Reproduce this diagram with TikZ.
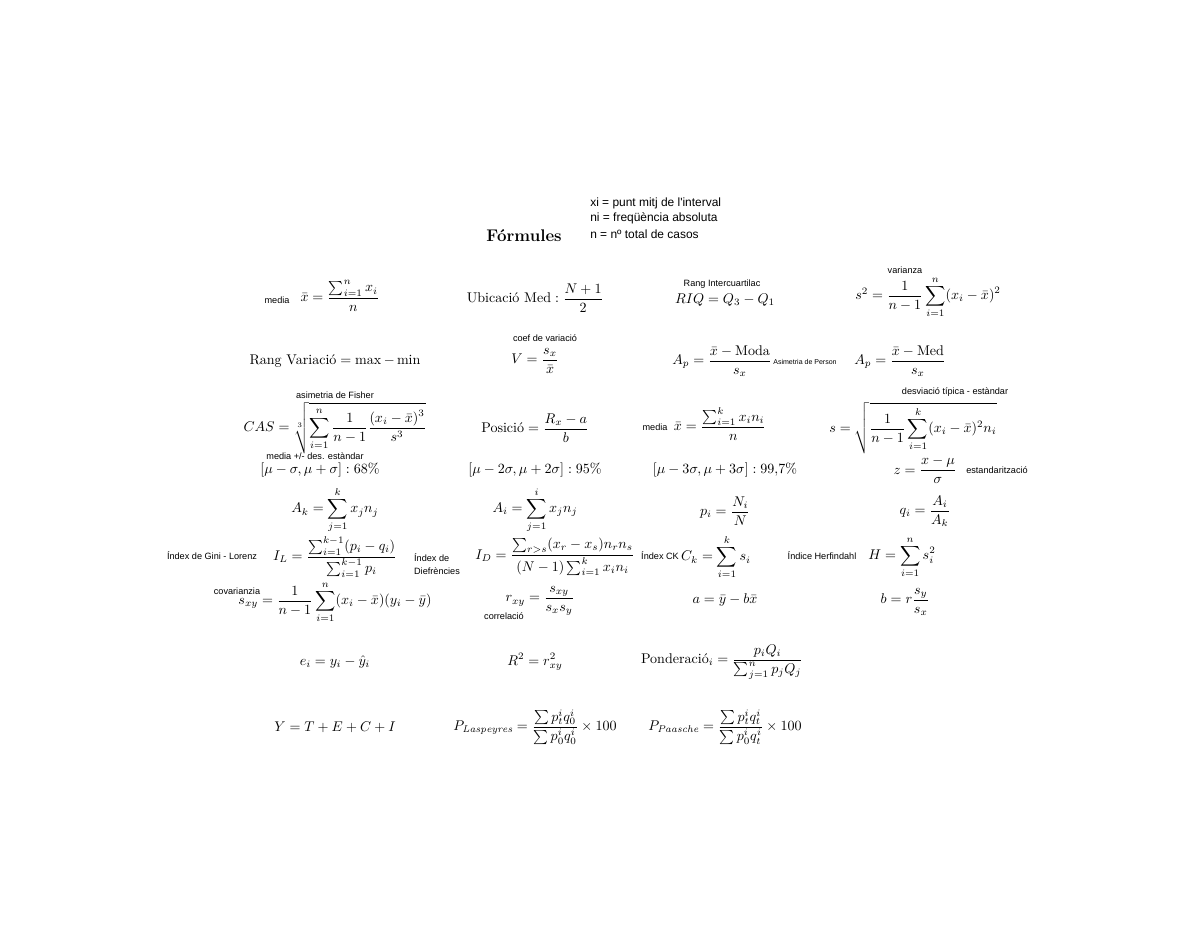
\documentclass[tikz,border=0pt]{standalone}
\usepackage{amsmath}
\usepackage{fontspec}
\newfontfamily\lab{Liberation Sans}
\begin{document}
\begin{tikzpicture}[x=0.025cm,y=-0.025cm,
  f/.style={inner sep=0pt},
  lb/.style={inner sep=0pt,font=\lab\fontsize{6.5}{7}\selectfont},
  lg/.style={inner sep=0pt,font=\lab\fontsize{8.5}{10}\selectfont,anchor=west}]
\useasboundingbox (0,0) rectangle (1200,927);
\node[f,font=\bfseries\large] (title) at (524,236) {Fórmules};
\node[lg] (l1) at (590,203) {xi = punt mitj de l'interval};
\node[lg] (l2) at (590,218) {ni = freqüència absoluta};
\node[lg] (l3) at (590,234) {n = nº total de casos};
% row 1
\node[lb] (m1) at (277,300) {media};
\node[f] (f1) at (340,296) {$\bar{x}=\dfrac{\sum_{i=1}^{n}x_i}{n}$};
\node[f] (f2) at (535,298) {$\text{Ubicació Med}:\dfrac{N+1}{2}$};
\node[lb] (m2) at (722,284) {Rang Intercuartilac};
\node[f] (f3) at (725,300) {$RIQ=Q_3-Q_1$};
\node[lb] (m3) at (905,270) {varianza};
\node[f] (f4) at (928,297) {$s^2=\dfrac{1}{n-1}\displaystyle\sum_{i=1}^{n}(x_i-\bar{x})^2$};
% row 2
\node[f] (f5) at (335,361) {$\text{Rang Variació}=\max-\min$};
\node[lb] (m4) at (545,338) {coef de variació};
\node[f] (f6) at (535,361) {$V=\dfrac{s_x}{\bar{x}}$};
\node[f] (f7) at (722,361) {$A_p=\dfrac{\bar{x}-\mathrm{Moda}}{s_x}$};
\node[lb,font=\lab\fontsize{5}{6}\selectfont] (m5) at (805,362) {Asimetria de Person};
\node[f] (f8) at (900,361) {$A_p=\dfrac{\bar{x}-\mathrm{Med}}{s_x}$};
% row 3
\node[lb] (m6) at (335,395) {asimetria de Fisher};
\node[f] (f9) at (335,428) {$CAS=\sqrt[3]{\displaystyle\sum_{i=1}^{n}\frac{1}{n-1}\frac{(x_i-\bar{x})^3}{s^3}}$};
\node[f] (f10) at (535,428) {$\text{Posició}=\dfrac{R_x-a}{b}$};
\node[lb] (m7) at (655,427) {media};
\node[f] (f11) at (720,424) {$\bar{x}=\dfrac{\sum_{i=1}^{k}x_in_i}{n}$};
\node[lb] (m8) at (955,392) {desviació típica - estàndar};
\node[f] (f12) at (913,428) {$s=\sqrt{\dfrac{1}{n-1}\displaystyle\sum_{i=1}^{k}(x_i-\bar{x})^2n_i}$};
% row 4
\node[lb] (m9) at (315,456) {media +/- des. estàndar};
\node[f] (f13) at (320,470) {$[\mu-\sigma,\mu+\sigma]:68\%$};
\node[f] (f14) at (535,470) {$[\mu-2\sigma,\mu+2\sigma]:95\%$};
\node[f] (f15) at (725,470) {$[\mu-3\sigma,\mu+3\sigma]:99{,}7\%$};
\node[f] (f16) at (925,470) {$z=\dfrac{x-\mu}{\sigma}$};
\node[lb] (m10) at (997,470) {estandarització};
% row 5
\node[f] (f17) at (335,510) {$A_k=\displaystyle\sum_{j=1}^{k}x_jn_j$};
\node[f] (f18) at (535,510) {$A_i=\displaystyle\sum_{j=1}^{i}x_jn_j$};
\node[f] (f19) at (725,511) {$p_i=\dfrac{N_i}{N}$};
\node[f] (f20) at (925,511) {$q_i=\dfrac{A_i}{A_k}$};
% row 6
\node[lb] (m11) at (212,556) {Índex de Gini - Lorenz};
\node[f] (f21) at (335,557) {$I_L=\dfrac{\sum_{i=1}^{k-1}(p_i-q_i)}{\sum_{i=1}^{k-1}p_i}$};
\node[lb,align=left] (m12) at (437,564) {Índex de\\[2pt]Diefrències};
\node[f] (f22) at (555,557) {$I_D=\dfrac{\sum_{r>s}(x_r-x_s)n_rn_s}{(N-1)\sum_{i=1}^{k}x_in_i}$};
\node[lb] (m13) at (660,556) {Índex CK};
\node[f] (f23) at (716,557) {$C_k=\displaystyle\sum_{i=1}^{k}s_i$};
\node[lb] (m14) at (822,556) {Índice Herfindahl};
\node[f] (f24) at (902,557) {$H=\displaystyle\sum_{i=1}^{n}s_i^2$};
% row 7
\node[lb] (m15) at (237,591) {covarianzia};
\node[f] (f25) at (335,602) {$s_{xy}=\dfrac{1}{n-1}\displaystyle\sum_{i=1}^{n}(x_i-\bar{x})(y_i-\bar{y})$};
\node[f] (f26) at (540,601) {$r_{xy}=\dfrac{s_{xy}}{s_xs_y}$};
\node[lb] (m16) at (504,616) {correlació};
\node[f] (f27) at (725,600) {$a=\bar{y}-b\bar{x}$};
\node[f] (f28) at (905,602) {$b=r\dfrac{s_y}{s_x}$};
% row 8
\node[f] (f29) at (335,662) {$e_i=y_i-\hat{y}_i$};
\node[f] (f30) at (535,662) {$R^2=r_{xy}^2$};
\node[f] (f31) at (722,662) {$\text{Ponderació}_i=\dfrac{p_iQ_i}{\sum_{j=1}^{n}p_jQ_j}$};
% row 9
\node[f] (f32) at (335,727) {$Y=T+E+C+I$};
\node[f] (f33) at (535,727) {$P_{\mathit{Laspeyres}}=\dfrac{\sum p_t^iq_0^i}{\sum p_0^iq_0^i}\times100$};
\node[f] (f34) at (725,727) {$P_{\mathit{Paasche}}=\dfrac{\sum p_t^iq_t^i}{\sum p_0^iq_t^i}\times100$};
\end{tikzpicture}
\end{document}
